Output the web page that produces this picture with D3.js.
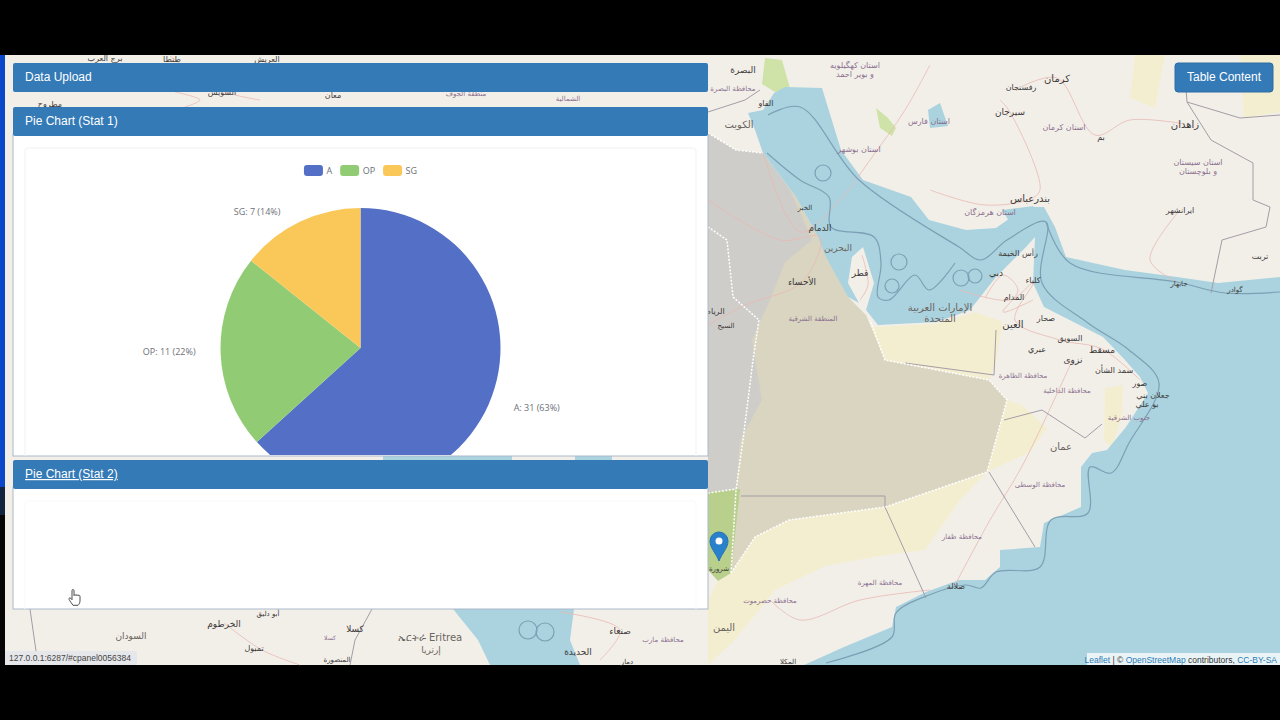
<!DOCTYPE html>
<html>
<head>
<meta charset="utf-8">
<script src="https://cdn.jsdelivr.net/npm/d3@7"></script>
<style>
  html, body { margin: 0; padding: 0; background: #000; overflow: hidden; }
  svg { display: block; }
  .ui { font-family: "Liberation Sans", Arial, sans-serif; }
  .ar { font-family: "DejaVu Sans", sans-serif; text-anchor: middle; }
  .pie-text { font-family: "Open Sans", sans-serif; font-size: 9px; fill: #6e7079; }
</style>
</head>
<body>
<svg id="chart" width="1280" height="720"></svg>
<script>
// pie data
const categories = ["A", "OP", "SG"];
const values = [31, 11, 7];
const colors = ["#5470c6", "#91cc75", "#fac858"];

// background map shapes, in page pixels
const sea = [[748,113],[763,110],[774,93],[785,87],[822,88],[841,150],[863,180],[911,197],[929,220],[966,230],[996,228],[1026,207],[1044,207],[1055,227],[1066,257],[1125,270],[1177,277],[1218,283],[1280,277],[1280,665],[804,665],[844,647],[892,627],[896,607],[926,592],[959,580],[985,580],[1000,567],[1000,550],[1040,547],[1044,523],[1081,507],[1081,467],[1092,453],[1107,450],[1126,427],[1148,393],[1140,377],[1125,360],[1103,337],[1044,307],[1033,283],[1035,237],[1026,247],[996,277],[970,310],[937,322],[878,325],[866,310],[874,283],[863,247],[852,257],[848,283],[859,303],[848,297],[826,257],[818,237],[796,197],[763,153],[755,130]];
const redSea = [[453,609],[574,609],[570,640],[580,665],[490,665],[478,640]];
const seaStrip = [[383,455],[512,455],[512,461],[383,461]];
const seaStrip2 = [[575,455],[612,455],[612,461],[575,461]];
const saudi = [[708,133],[736,150],[763,153],[796,197],[818,237],[848,297],[866,315],[885,360],[989,380],[1007,400],[987,472],[885,507],[789,520],[755,537],[731,573],[718,580],[708,570]];
const saudiGrey = [[708,133],[736,150],[763,153],[790,190],[812,240],[785,262],[770,300],[752,340],[762,400],[740,440],[736,490],[708,492]];
const sharurah = [[708,492],[740,489],[731,573],[718,581],[708,570]];
const yellows = [
  [[870,327],[937,324],[975,312],[1003,322],[996,362],[989,380],[885,360]],
  [[1007,400],[987,472],[1030,452],[1047,428],[1022,405]],
  [[885,507],[987,472],[960,500],[925,550],[880,556],[825,566],[775,590],[735,640],[708,665],[708,600],[718,581],[731,573],[755,537],[789,520]],
  [[1105,388],[1123,385],[1122,415],[1112,448],[1104,440]],
  [[1135,55],[1165,55],[1155,108],[1130,98]],
  [[1240,55],[1280,55],[1280,112],[1244,118]],
  [[845,490],[862,480],[880,505],[860,510]]
];
const greenPatches = [
  [[876,108],[888,118],[896,128],[892,136],[880,128]],
  [[765,58],[782,60],[790,88],[775,92],[762,84]]
];
const maritime = [
  [[768,115],[800,107],[859,180],[959,247],[981,260],[1007,240],[1046,222],[1042,283],[1088,323],[1129,350],[1159,383],[1129,443],[1111,473],[1090,467],[1088,513],[1051,520],[1040,567],[996,572],[981,588],[966,585],[929,595],[896,613],[892,637],[826,663]],
  [[1046,222],[1070,263],[1177,282],[1225,293],[1280,292]],
  [[767,153],[800,180],[829,197],[831,227],[874,237],[881,263],[878,297],[889,300],[915,275],[929,290],[955,263]]
];
const zoneRings = [[899,262,8],[892,286,7],[961,278,8],[975,276,7],[823,173,8],[545,632,9],[528,630,9]];
const borders = [
  [[885,507],[926,598]],
  [[905,363],[994,375],[996,330]],
  [[989,472],[1035,547]],
  [[741,496],[885,496],[885,507]],
  [[1185,75],[1187,102],[1240,118],[1280,115]],
  [[1187,102],[1211,140],[1253,163],[1253,200],[1270,207],[1266,227],[1222,240],[1211,293]],
  [[1004,420],[1042,410],[1085,438],[1102,424]],
  [[760,90],[745,100],[708,112]],
  [[30,609],[38,665]],
  [[372,609],[355,640],[350,665]]
];
const whiteDashed = [
  [[708,227],[727,240],[733,297],[759,320],[753,360],[743,440],[736,490],[731,573]],
  [[708,493],[736,489]],
  [[731,573],[755,537],[789,520],[885,507],[987,472],[1007,400],[989,380],[885,360],[870,320]],
  [[708,133],[736,150],[763,153]]
];
const roads = [
  [[763,153],[800,232],[840,200],[870,160],[905,110],[930,65]],
  [[708,200],[780,240],[820,237],[802,282],[745,305],[708,325]],
  [[960,290],[1010,300],[1033,283],[1015,320],[1060,340],[1102,349],[1140,380]],
  [[985,298],[1003,275],[1018,290],[1003,312],[1033,300]],
  [[862,255],[868,285],[860,300]],
  [[1073,359],[1040,430],[1020,470],[990,520],[955,585]],
  [[1021,87],[1057,78],[1095,135],[1130,120],[1185,124]],
  [[1000,100],[1010,112],[1040,190],[1030,199],[985,205],[930,190]],
  [[1180,210],[1150,260],[1179,283]],
  [[770,600],[800,620],[860,600],[930,590]],
  [[170,56],[220,90],[260,100]],
  [[175,92],[200,100],[185,107]],
  [[560,612],[620,630],[600,660]],
  [[224,623],[262,650],[300,665]]
];
const lakes = [[[928,110],[940,103],[948,126],[930,128]],[[1002,210],[1034,206],[1012,226]]];

// map labels: text, x, y, size, colour
const dark = "#3d3a3a", adm = "#8b6f8f";
const mapLabels = [
  ["برج العرب",105,61,8,dark],["طنطا",172,62,8,dark],["العريش",267,62,8,dark],["معان",333,98,8,dark],
  ["منطقة الجوف",466,96,7,adm],["الشمالية",568,101,7,adm],["السويس",222,95,8,dark],["مطروح",50,107,8,dark],
  ["أبو دليق",268,616,7,dark],["الخرطوم",224,627,9,dark],["السودان",131,639,9,"#6b6560"],["كسلا",355,632,9,dark],
  ["كسلا",330,640,6,adm],["تمبول",254,651,8,dark],["المنصورة",337,662,7,dark],["ኤርትራ Eritrea",430,641,10,"#6b6560"],
  ["إرتريا",431,653,9,"#6b6560"],["صنعاء",620,634,9,dark],["الحديدة",578,655,9,dark],["محافظة مارب",663,642,7,adm],
  ["اليمن",724,631,10,"#6b6560"],["دمار",627,664,7,dark],
  ["البصرة",743,73,9,dark],["محافظة البصرة",733,91,7,adm],["الفاو",766,106,8,dark],["الكويت",739,128,10,"#6b6560"],
  ["استان كهگیلویه",855,68,8,adm],["و بویر احمد",855,77,8,adm],["كرمان",1057,82,10,dark],["رفسنجان",1021,90,8,dark],
  ["سيرجان",1010,115,9,dark],["استان فارس",929,124,8,adm],["استان كرمان",1064,130,8,adm],["بم",1101,140,8,dark],
  ["زاهدان",1185,128,10,dark],["استان سيستان",1198,165,8,adm],["و بلوچستان",1198,174,8,adm],["استان بوشهر",859,152,8,adm],
  ["بندرعباس",1030,202,10,dark],["استان هرمزگان",990,215,8,adm],["ايرانشهر",1180,213,8,dark],["تربت",1260,259,8,dark],
  ["جابهار",1179,286,7,dark],["گوادر",1235,292,7,dark],["الخبر",805,210,7,dark],["الدمام",820,231,9,dark],
  ["البحرين",838,251,9,"#6b6560"],["رأس الخيمة",1018,256,8,dark],["دبي",996,276,9,dark],["قطر",860,276,9,dark],
  ["الأحساء",802,285,9,dark],["كلباء",1033,283,8,dark],["المدام",1014,300,8,dark],["الإمارات العربية",940,311,10,"#6b6560"],
  ["المتحدة",940,322,10,"#6b6560"],["المنطقة الشرقية",813,321,7,adm],["السيح",726,328,7,dark],["الرياض",713,314,8,dark],
  ["العين",1013,328,10,dark],["صحار",1046,321,8,dark],["السويق",1070,341,8,dark],["مسقط",1102,353,9,dark],
  ["عبري",1037,352,8,dark],["نزوى",1073,363,9,dark],["سمد الشأن",1114,373,8,dark],["محافظة الظاهرة",1023,378,7,adm],
  ["صور",1140,386,8,dark],["محافظة الداخلية",1067,393,7,adm],["جعلان بني",1153,398,8,dark],["بو علي",1147,407,8,dark],
  ["جنوب الشرقية",1129,420,7,adm],["عمان",1061,450,10,"#6b6560"],["محافظة الوسطى",1040,487,7,adm],["محافظة ظفار",962,539,7,adm],
  ["محافظة المهرة",880,585,7,adm],["صلالة",956,589,8,dark],["محافظة حضرموت",770,603,7,adm],["المكلا",788,664,7,dark],
  ["شرورة",719,571,7,dark]
];

const svg = d3.select("#chart");
const line = d3.line();
const smooth = d3.line().curve(d3.curveCatmullRom.alpha(0.5));
const area = (d) => line(d) + "Z";

// map
const map = svg.append("g");
map.append("rect").attr("x", 5).attr("y", 55).attr("width", 1275).attr("height", 610).attr("fill", "#f2efe9");
map.selectAll(".yellow").data(yellows).enter().append("path").attr("d", area).attr("fill", "#f4eed0");
map.selectAll(".green").data(greenPatches).enter().append("path").attr("d", area).attr("fill", "#cfe3a8");
map.append("path").attr("d", area(saudi)).attr("fill", "#d9d5c1");
map.append("path").attr("d", area(saudiGrey)).attr("fill", "#cfcdc9");
map.append("path").attr("d", area(sharurah)).attr("fill", "#b9cf8c");
map.selectAll(".sea").data([sea, redSea, seaStrip, seaStrip2, ...lakes]).enter().append("path").attr("d", area).attr("fill", "#aad3df");
map.selectAll(".road").data(roads).enter().append("path").attr("d", smooth)
  .attr("fill", "none").attr("stroke", "#e8b9b3").attr("stroke-width", 0.8);
map.selectAll(".border").data(borders).enter().append("path").attr("d", line)
  .attr("fill", "none").attr("stroke", "#a59ca6").attr("stroke-width", 1);
map.selectAll(".maritime").data(maritime).enter().append("path").attr("d", smooth)
  .attr("fill", "none").attr("stroke", "#7c9fb4").attr("stroke-width", 1.2);
map.selectAll(".ring").data(zoneRings).enter().append("circle")
  .attr("cx", (d) => d[0]).attr("cy", (d) => d[1]).attr("r", (d) => d[2])
  .attr("fill", "none").attr("stroke", "#7c9fb4").attr("stroke-width", 1.2);
map.selectAll(".dash").data(whiteDashed).enter().append("path").attr("d", line)
  .attr("fill", "none").attr("stroke", "#fff").attr("stroke-width", 1.5).attr("stroke-dasharray", "2 1.5");
map.selectAll(".label").data(mapLabels).enter().append("text")
  .attr("class", "ar").attr("direction", "rtl")
  .attr("x", (d) => d[1]).attr("y", (d) => d[2])
  .attr("font-size", (d) => d[3]).attr("fill", (d) => d[4])
  .text((d) => d[0]);

// marker
const pin = map.append("g").attr("transform", "translate(719,561)");
pin.append("path").attr("d", "M0,0C-3,-8 -9,-13 -9,-20A9,9 0 1 1 9,-20C9,-13 3,-8 0,0Z").attr("fill", "#2a81cb").attr("stroke", "#2473b5");
pin.append("circle").attr("cy", -20).attr("r", 3.5).attr("fill", "#fff");

// left edge of the recorded window
svg.append("rect").attr("x", 0).attr("y", 55).attr("width", 5).attr("height", 432).attr("fill", "#0a47c9");
svg.append("rect").attr("x", 0).attr("y", 487).attr("width", 5).attr("height", 28).attr("fill", "#10233f");
svg.append("rect").attr("x", 0).attr("y", 515).attr("width", 5).attr("height", 150).attr("fill", "#050505");

function heading(y, h, label, underline) {
  svg.append("rect").attr("x", 13).attr("y", y).attr("width", 695).attr("height", h)
    .attr("rx", 2).attr("fill", "#337ab7");
  svg.append("text").attr("class", "ui").attr("x", 25).attr("y", y + h / 2 + 3.5)
    .attr("font-size", 12).attr("fill", "#fff")
    .attr("text-decoration", underline ? "underline" : null).text(label);
}

function panelBody(y, h, cardColor) {
  svg.append("rect").attr("x", 13).attr("y", y).attr("width", 695).attr("height", h)
    .attr("fill", "#fff").attr("stroke", "#aab9c9").attr("stroke-width", 1);
  svg.append("path").attr("d", `M25,${y + h}V${y + 17}Q25,${y + 14} 28,${y + 14}H693Q696,${y + 14} 696,${y + 17}V${y + h}`)
    .attr("fill", "none").attr("stroke", cardColor);
}

heading(63, 29, "Data Upload");
panelBody(134, 322, "#f1f1f1");
heading(107, 29, "Pie Chart (Stat 1)");
panelBody(487, 122, "#f9f9f9");
heading(460, 29, "Pie Chart (Stat 2)", true);

// legend
const legend = svg.append("g");
let legendX = 0;
categories.forEach((c, i) => {
  const item = legend.append("g").attr("transform", `translate(${legendX},165)`);
  item.append("rect").attr("width", 19).attr("height", 11).attr("rx", 3).attr("fill", colors[i]);
  const t = item.append("text").attr("class", "pie-text").attr("x", 22.5).attr("y", 8.5).text(c);
  legendX += 19 + 3.5 + t.node().getComputedTextLength() + 8;
});
legend.attr("transform", `translate(${360.5 - (legendX - 8) / 2},0)`);

// pie
const total = d3.sum(values);
const radius = 140;
svg.append("clipPath").attr("id", "pie-clip").append("rect")
  .attr("x", 26).attr("y", 149).attr("width", 669).attr("height", 306);
const pieG = svg.append("g").attr("clip-path", "url(#pie-clip)").append("g")
  .attr("transform", "translate(360.5,348)");
const slices = d3.pie().sort(null).value((d) => d.value)(
  categories.map((name, i) => ({ name, value: values[i], color: colors[i] }))
);
const arcGen = d3.arc().innerRadius(0).outerRadius(radius);
const labelArc = d3.arc().innerRadius(150).outerRadius(150);
pieG.selectAll("path").data(slices).enter().append("path")
  .attr("d", arcGen).attr("fill", (d) => d.data.color);
pieG.selectAll("text").data(slices).enter().append("text")
  .attr("class", "pie-text")
  .attr("text-anchor", (d) => (labelArc.centroid(d)[0] > 0 ? "start" : "end"))
  .attr("x", (d) => labelArc.centroid(d)[0] + (labelArc.centroid(d)[0] > 0 ? 16 : -15))
  .attr("y", (d) => labelArc.centroid(d)[1] + 2.5)
  .text((d) => `${d.data.name}: ${d.data.value} (${Math.round((d.data.value / total) * 100)}%)`);

// table button
svg.append("rect").attr("x", 1175).attr("y", 63).attr("width", 98).attr("height", 29).attr("rx", 3)
  .attr("fill", "#337ab7").attr("stroke", "#2e6da4");
svg.append("text").attr("class", "ui").attr("x", 1224).attr("y", 81).attr("text-anchor", "middle")
  .attr("font-size", 12).attr("fill", "#fff").text("Table Content");

// status bar
svg.append("rect").attr("x", 5).attr("y", 651).attr("width", 132).attr("height", 14).attr("fill", "#e6e7ea");
svg.append("text").attr("class", "ui").attr("x", 9).attr("y", 661).attr("font-size", 8.5).attr("fill", "#444")
  .text("127.0.0.1:6287/#cpanel0056384");

// attribution
svg.append("rect").attr("x", 1087).attr("y", 653).attr("width", 193).attr("height", 12).attr("fill", "#fff").attr("opacity", 0.75);
const attr = svg.append("text").attr("class", "ui").attr("x", 1277).attr("y", 662.5).attr("text-anchor", "end")
  .attr("font-size", 8.5).attr("fill", "#333");
attr.append("tspan").attr("fill", "#2a7bb5").text("Leaflet");
attr.append("tspan").text(" | © ");
attr.append("tspan").attr("fill", "#2a7bb5").text("OpenStreetMap");
attr.append("tspan").text(" contributors, ");
attr.append("tspan").attr("fill", "#2a7bb5").text("CC-BY-SA");

// mouse pointer
svg.append("path")
  .attr("d", "M72,590.5c0,-1.2 2,-1.2 2,0v5c0,-1 2,-1 2,0c0,-1 2,-1 2,0.3c0,-0.8 2,-0.8 2,0.5v4.5c0,2 -1,3.5 -2,4.5h-5c-1,-1.5 -3,-4 -4,-6c-0.5,-1.3 1,-1.8 2,-0.8l1,1.2z")
  .attr("fill", "#fff").attr("stroke", "#222").attr("stroke-width", 0.8);
</script>
</body>
</html>
